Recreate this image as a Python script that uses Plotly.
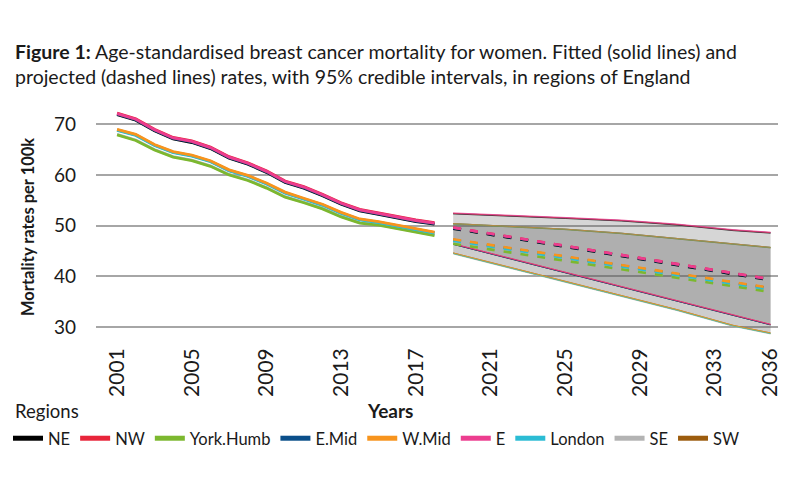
import plotly.graph_objects as go

FONT = "Lato"

regions = ["NE", "NW", "York.Humb", "E.Mid", "W.Mid", "E", "London", "SE", "SW"]
colors = ["#000000", "#e8253a", "#7cb82f", "#0b4f8a", "#f7941d", "#ec3d8f", "#2bbcd4", "#b3b3b3", "#9c5c0e"]

fit_years = list(range(2001, 2019))
proj_years = [2019, 2022, 2025, 2028, 2031, 2034, 2036]

# fitted rates (solid lines)
ne_fit = [71.9, 70.8, 68.7, 67.1, 66.4, 65.2, 63.3, 62.1, 60.5, 58.5, 57.4, 55.9, 54.2, 52.9, 52.2, 51.5, 50.8, 50.3]
nw_fit = [72.2, 71.1, 69.0, 67.4, 66.7, 65.5, 63.6, 62.4, 60.8, 58.8, 57.7, 56.2, 54.5, 53.2, 52.5, 51.8, 51.1, 50.6]
yh_fit = [67.9, 66.8, 64.9, 63.5, 62.8, 61.7, 60.0, 58.9, 57.4, 55.6, 54.5, 53.3, 51.7, 50.5, 50.1, 49.4, 48.7, 48.0]
em_fit = [72.0, 70.9, 68.8, 67.2, 66.5, 65.3, 63.4, 62.2, 60.6, 58.6, 57.5, 56.0, 54.3, 53.0, 52.3, 51.6, 50.9, 50.4]
wm_fit = [69.0, 68.0, 66.0, 64.6, 63.9, 62.8, 61.0, 59.9, 58.4, 56.6, 55.4, 54.2, 52.6, 51.3, 50.8, 50.1, 49.4, 48.7]
e_fit = [72.1, 71.0, 68.9, 67.3, 66.6, 65.4, 63.5, 62.3, 60.7, 58.7, 57.6, 56.1, 54.4, 53.1, 52.4, 51.7, 51.0, 50.5]
lo_fit = [68.8, 67.8, 65.8, 64.4, 63.7, 62.6, 60.8, 59.7, 58.2, 56.4, 55.2, 54.0, 52.4, 51.1, 50.6, 49.9, 49.2, 48.5]
se_fit = [68.0, 66.9, 65.0, 63.6, 62.9, 61.8, 60.1, 59.0, 57.5, 55.7, 54.6, 53.4, 51.8, 50.6, 50.2, 49.5, 48.8, 48.1]
sw_fit = [68.9, 67.9, 65.9, 64.5, 63.8, 62.7, 60.9, 59.8, 58.3, 56.5, 55.3, 54.1, 52.5, 51.2, 50.7, 50.0, 49.3, 48.6]

# projected rates (dashed lines)
ne_proj = [49.4, 47.6, 45.8, 44.0, 42.2, 40.4, 39.2]
nw_proj = [49.6, 47.8, 46.0, 44.2, 42.4, 40.6, 39.4]
yh_proj = [46.4, 44.7, 43.0, 41.4, 39.7, 38.0, 36.9]
em_proj = [49.5, 47.7, 45.9, 44.1, 42.3, 40.5, 39.3]
wm_proj = [47.3, 45.6, 43.9, 42.2, 40.5, 38.8, 37.7]
e_proj = [49.6, 47.8, 46.0, 44.2, 42.4, 40.6, 39.4]
lo_proj = [47.0, 45.3, 43.6, 41.9, 40.2, 38.5, 37.4]
se_proj = [46.5, 44.8, 43.1, 41.5, 39.8, 38.1, 37.0]
sw_proj = [47.2, 45.5, 43.8, 42.1, 40.4, 38.7, 37.6]

# 95% credible intervals (upper / lower)
ne_up = [52.3, 51.9, 51.4, 50.9, 50.1, 49.0, 48.5]
ne_lo = [46.3, 43.5, 40.8, 38.0, 35.2, 32.3, 30.4]
nw_up = [52.4, 52.0, 51.5, 51.0, 50.2, 49.1, 48.6]
nw_lo = [46.4, 43.6, 40.9, 38.1, 35.3, 32.4, 30.5]
yh_up = [50.3, 49.7, 49.2, 48.4, 47.4, 46.3, 45.6]
yh_lo = [44.5, 41.7, 38.9, 36.1, 33.3, 30.2, 28.7]
em_up = [52.4, 52.0, 51.5, 51.0, 50.2, 49.1, 48.6]
em_lo = [46.3, 43.5, 40.8, 38.0, 35.2, 32.3, 30.4]
wm_up = [50.4, 49.8, 49.3, 48.5, 47.5, 46.4, 45.7]
wm_lo = [44.6, 41.8, 39.0, 36.2, 33.4, 30.3, 28.8]
e_up = [52.5, 52.1, 51.6, 51.1, 50.3, 49.2, 48.7]
e_lo = [46.4, 43.6, 40.9, 38.1, 35.3, 32.4, 30.5]
lo_up = [50.4, 49.8, 49.3, 48.5, 47.5, 46.4, 45.7]
lo_lo = [44.5, 41.7, 38.9, 36.1, 33.3, 30.2, 28.7]
se_up = [50.3, 49.7, 49.2, 48.4, 47.4, 46.3, 45.6]
se_lo = [44.4, 41.6, 38.8, 36.0, 33.2, 30.1, 28.6]
sw_up = [50.4, 49.8, 49.3, 48.5, 47.5, 46.4, 45.7]
sw_lo = [44.6, 41.8, 39.0, 36.2, 33.4, 30.3, 28.8]

x_tick_vals = [2001, 2005, 2009, 2013, 2017, 2021, 2025, 2029, 2033, 2036]
x_tick_text = ["2001", "2005", "2009", "2013", "2017", "2021", "2025", "2029", "2033", "2036"]
y_tick_vals = [30, 40, 50, 60, 70]

fits = [ne_fit, nw_fit, yh_fit, em_fit, wm_fit, e_fit, lo_fit, se_fit, sw_fit]
projs = [ne_proj, nw_proj, yh_proj, em_proj, wm_proj, e_proj, lo_proj, se_proj, sw_proj]
ups = [ne_up, nw_up, yh_up, em_up, wm_up, e_up, lo_up, se_up, sw_up]
los = [ne_lo, nw_lo, yh_lo, em_lo, wm_lo, e_lo, lo_lo, se_lo, sw_lo]

# drawing order (back to front)
order = [8, 7, 2, 6, 4, 0, 3, 1, 5]

# plot area in figure pixels
PL, PR, PT, PB = 88, 770, 96, 329
PW, PH = PR - PL, PB - PT

fig = go.Figure()

# credible interval bands
for i in order:
    fig.add_trace(go.Scatter(x=proj_years, y=los[i], mode="lines",
                             line=dict(color=colors[i], width=0.8),
                             opacity=0.8, showlegend=False, hoverinfo="skip"))
    fig.add_trace(go.Scatter(x=proj_years, y=ups[i], mode="lines",
                             line=dict(color=colors[i], width=0.8),
                             fill="tonexty", fillcolor="rgba(90,90,90,0.066)",
                             opacity=0.8, showlegend=False, hoverinfo="skip"))

# fitted and projected lines
for i in order:
    fig.add_trace(go.Scatter(x=fit_years, y=fits[i], mode="lines",
                             line=dict(color=colors[i], width=2.8),
                             showlegend=False, name=regions[i]))
    fig.add_trace(go.Scatter(x=proj_years, y=projs[i], mode="lines",
                             line=dict(color=colors[i], width=2.6, dash="8px,9px"),
                             showlegend=False, name=regions[i]))

# legend entries
for i in range(len(regions)):
    fig.add_trace(go.Scatter(x=[None], y=[None], mode="lines",
                             line=dict(color=colors[i], width=5),
                             name=regions[i], showlegend=True))

fig.update_layout(
    width=800, height=500,
    margin=dict(l=PL, r=800 - PR, t=PT, b=500 - PB, autoexpand=False),
    paper_bgcolor="white", plot_bgcolor="white",
    font=dict(family=FONT, color="#1a1a1a"),
    title=dict(
        text="<b>Figure 1:</b> Age-standardised breast cancer mortality for women. Fitted (solid lines) and<br>"
             "projected (dashed lines) rates, with 95% credible intervals, in regions of England",
        xref="container", x=7 / 800, xanchor="left",
        yref="container", y=1 - 51 / 500, yanchor="top",
        font=dict(family=FONT, size=19.5, color="#1a1a1a"),
    ),
    xaxis=dict(range=[1999.87, 2036.4], tickvals=x_tick_vals, ticktext=x_tick_text,
               tickangle=-90, showgrid=False, zeroline=False, showline=False, ticks="",
               tickfont=dict(size=21, family=FONT, color="#1a1a1a"), ticklabelstandoff=6),
    yaxis=dict(range=[28, 74], tickvals=y_tick_vals, showgrid=True, gridcolor="#a6a6a6",
               gridwidth=1.5, zeroline=False, showline=False, ticks="",
               tickfont=dict(size=19, family=FONT, color="#1a1a1a"), ticklabelstandoff=19),
    legend=dict(orientation="h", xref="paper", yref="paper",
                x=(0 - PL) / PW, xanchor="left", y=(PB - 413) / PH, yanchor="top",
                traceorder="normal",
                font=dict(size=16.5, family=FONT, color="#1a1a1a"),
                itemwidth=30, tracegroupgap=0, bgcolor="rgba(0,0,0,0)"),
    annotations=[
        dict(text="<b>Mortality rates per 100k</b>", xref="paper", yref="paper",
             x=(20 - PL) / PW, y=(PB - 219) / PH, xanchor="center", yanchor="middle",
             textangle=-90, showarrow=False, font=dict(size=16.5, family=FONT, color="#1a1a1a")),
        dict(text="<b>Years</b>", xref="paper", yref="paper",
             x=(382 - PL) / PW, y=(PB - 402) / PH, xanchor="center", yanchor="middle",
             showarrow=False, font=dict(size=19, family=FONT, color="#1a1a1a")),
        dict(text="Regions", xref="paper", yref="paper",
             x=(5 - PL) / PW, y=(PB - 403) / PH, xanchor="left", yanchor="middle",
             showarrow=False, font=dict(size=18.5, family=FONT, color="#1a1a1a")),
    ],
)

fig.write_html("out.html")
